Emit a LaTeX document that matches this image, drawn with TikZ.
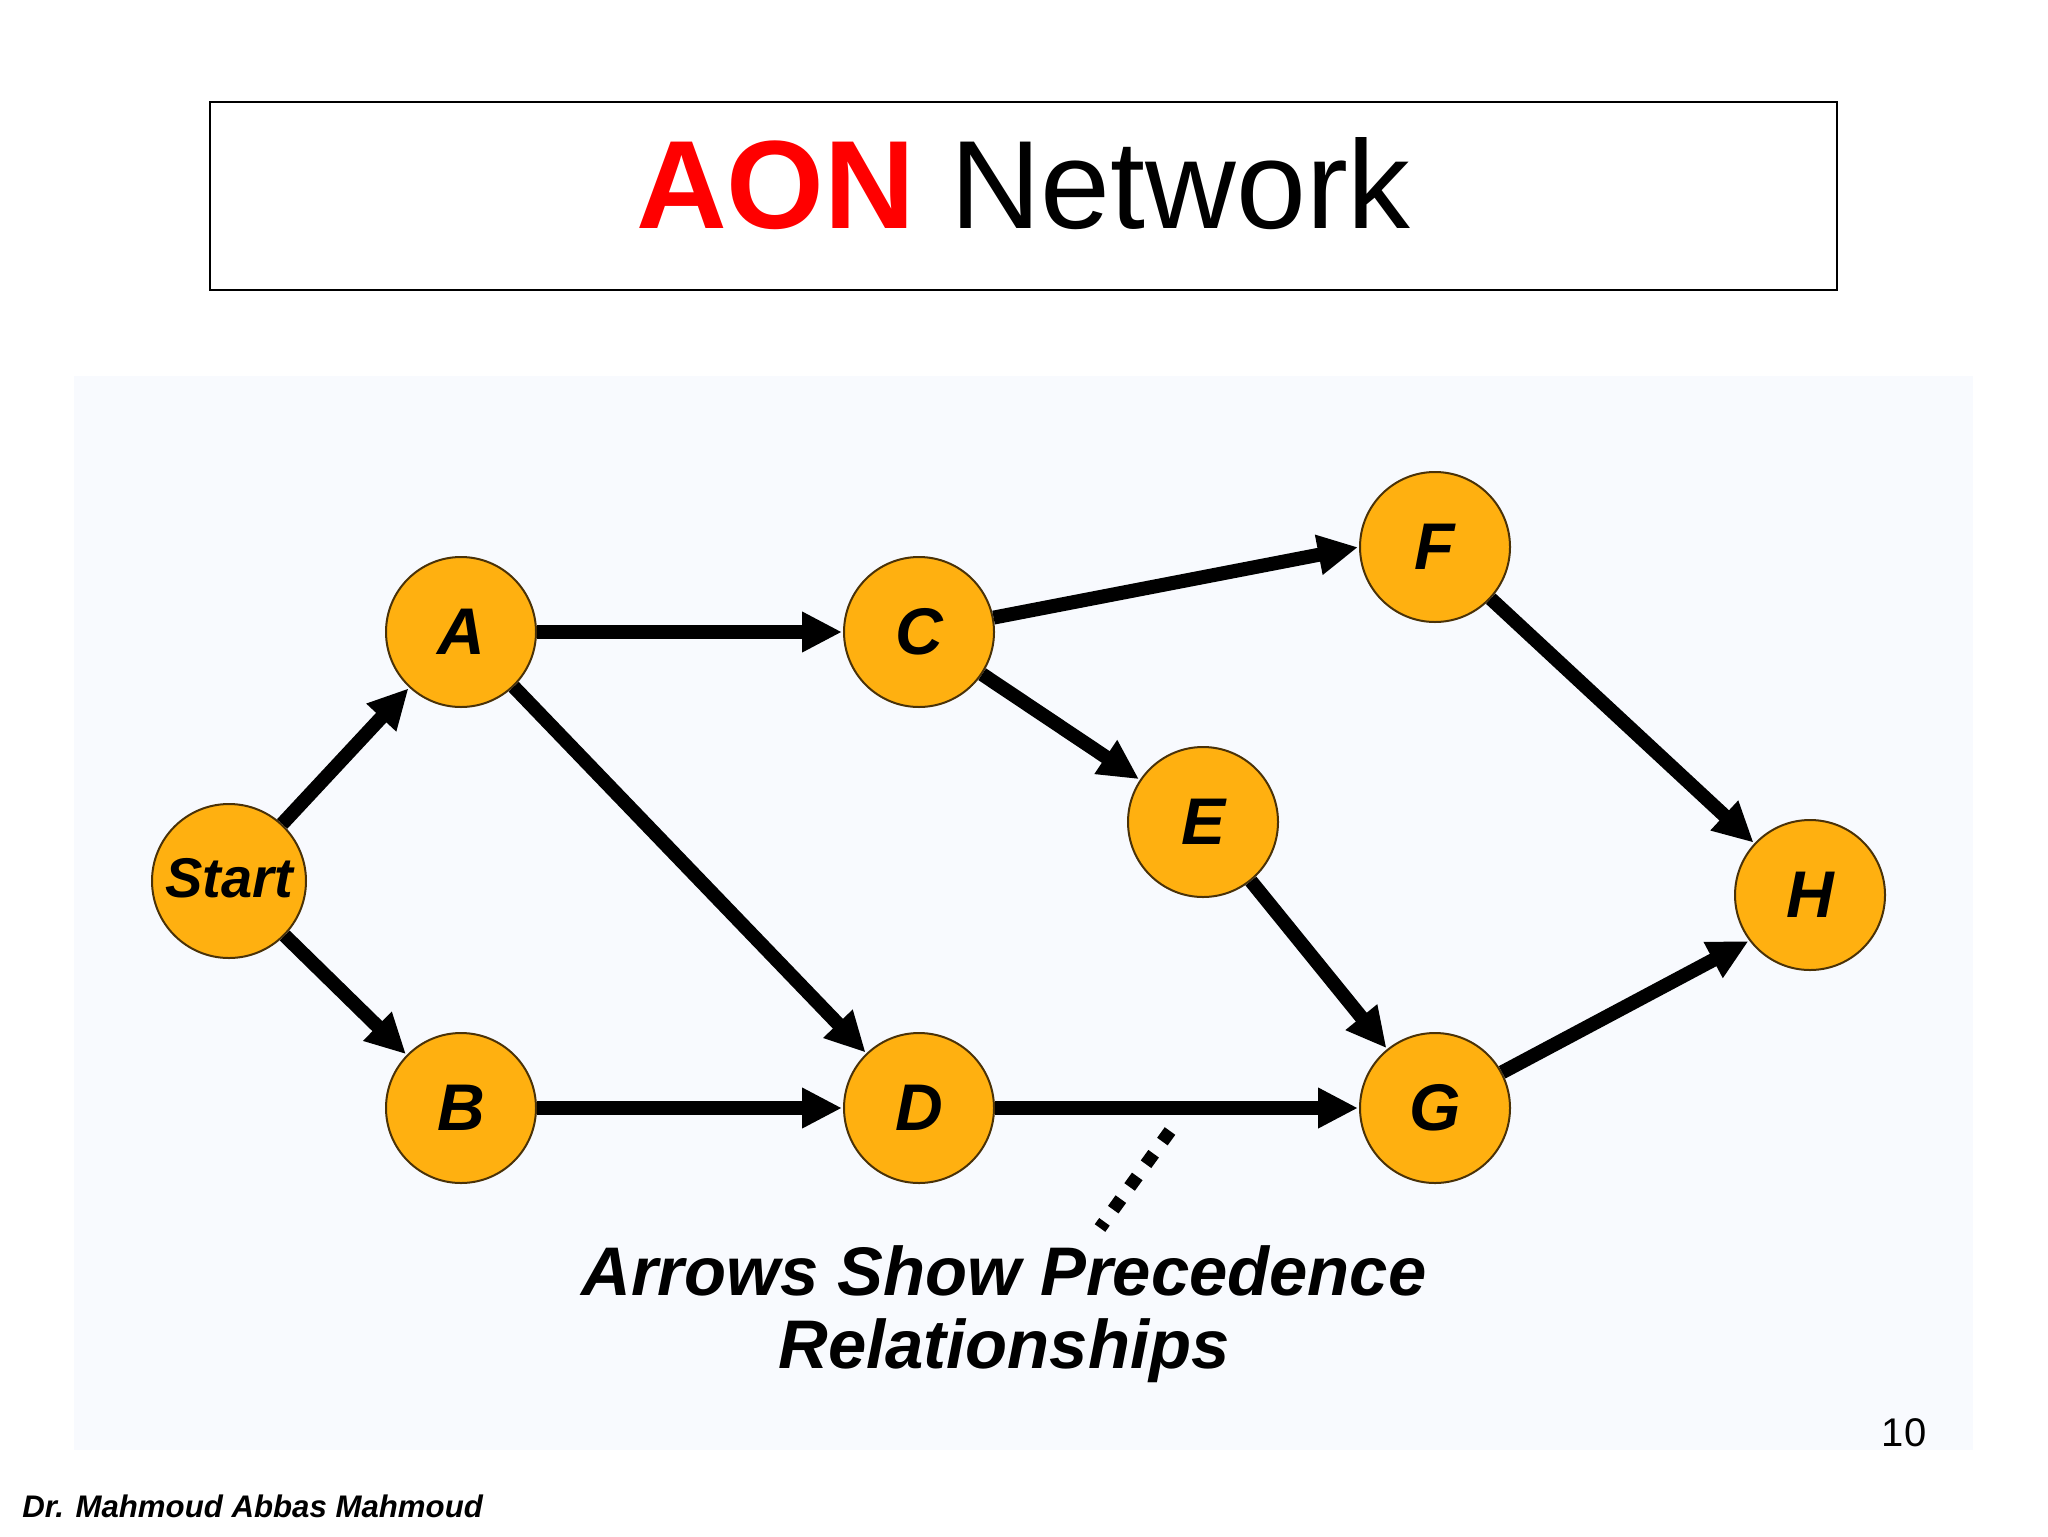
\documentclass[tikz,border=0pt]{standalone}
\usepackage{fontspec}
\setmainfont{Liberation Sans}
\usetikzlibrary{arrows.meta}
\definecolor{panelcol}{HTML}{F8FAFE}
\definecolor{contcol}{HTML}{FFB010}
\definecolor{rimcol}{HTML}{4A3208}
\tikzstyle{cont}=[circle,draw=rimcol,fill=contcol,inner sep=0pt,minimum size=75pt,line width=1pt,
font=\fontsize{33}{36}\selectfont\bfseries\itshape]
\tikzstyle{dgraph}=[-{Triangle[length=20pt,width=19pt]},line width=7pt,shorten >=0.5pt]
\tikzstyle{note}=[align=center,font=\fontsize{34.4}{36.5}\selectfont\bfseries\itshape]
\begin{document}
\begin{tikzpicture}[x=0.5pt,y=-0.5pt]
\useasboundingbox (0,0) rectangle (2048,1536);
\node[draw=black,line width=1pt,inner sep=0pt,minimum width=813.5pt,minimum height=94pt,
text depth=13pt,font=\fontsize{62.8}{68}\selectfont] (title) at (1023.5,196) {\textcolor{red}{\textbf{AON}} Network};
\node[fill=panelcol,inner sep=0pt,minimum width=949.5pt,minimum height=537pt] (panel) at (1023.5,913) {};

\node[cont,minimum size=77pt,text depth=3pt,font=\fontsize{28}{30}\selectfont\bfseries\itshape] (start) at (229,881) {Start};
\node[cont] (a) at (461,632) {A};
\node[cont] (b) at (461,1108) {B};
\node[cont] (c) at (919,632) {C};
\node[cont] (d) at (919,1108) {D};
\node[cont] (e) at (1203,822) {E};
\node[cont] (f) at (1435,547) {F};
\node[cont] (g) at (1435,1108) {G};
\node[cont] (h) at (1810,895) {H};

\draw[dgraph] (start) -- (a);
\draw[dgraph] (start) -- (b);
\draw[dgraph] (a) -- (c);
\draw[dgraph] (a) -- (d);
\draw[dgraph] (b) -- (d);
\draw[dgraph] (c) -- (f.west);
\draw[dgraph] (c) -- (e);
\draw[dgraph] (d) -- (g);
\draw[dgraph] (e) -- (g);
\draw[dgraph] (f) -- (h);
\draw[dgraph] (g) -- (h.217);

\coordinate (dota) at (1170,1131);
\coordinate (dotb) at (1100,1228);
\draw[line width=6.5pt,dash pattern=on 6.5pt off 7.5pt] (dota) -- (dotb);

\node[note] (arrowsnote) at (1004,1314) {Arrows Show Precedence\\Relationships};
\node[font=\fontsize{20}{24}\selectfont] (pagenum) at (1904,1433) {10};
\node[anchor=base west,inner sep=0pt,font=\fontsize{15.6}{18}\selectfont\bfseries\itshape] (author) at (22,1517) {Dr. Mahmoud Abbas Mahmoud};
\end{tikzpicture}
\end{document}
